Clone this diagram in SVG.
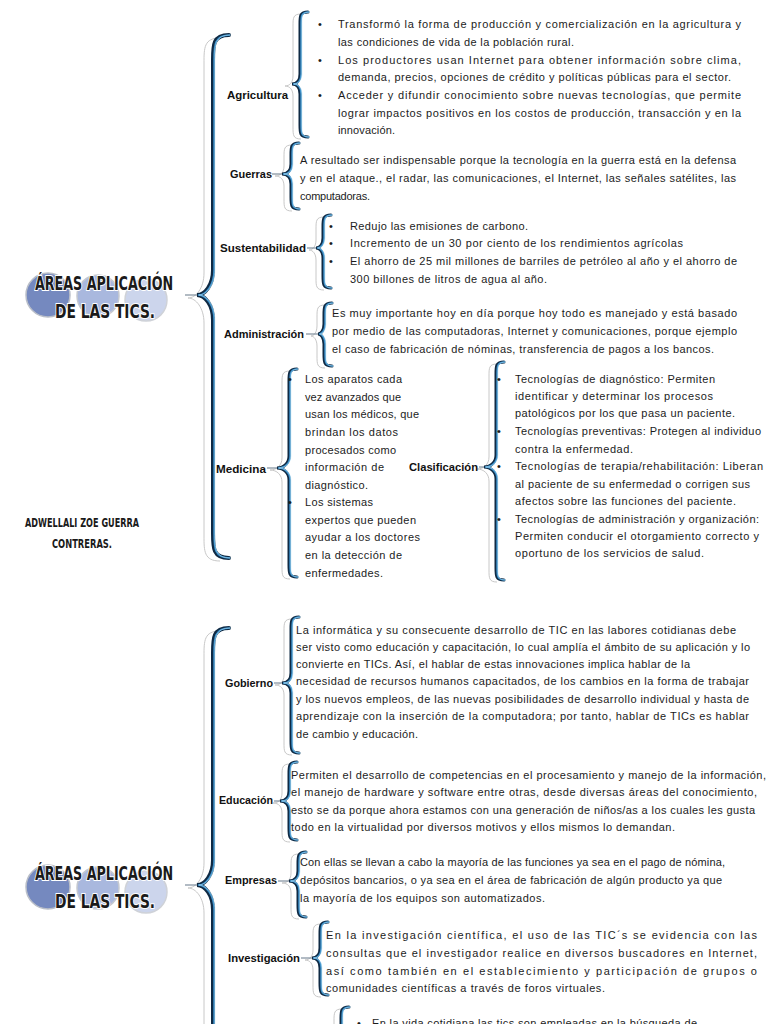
<svg xmlns="http://www.w3.org/2000/svg" xmlns:xlink="http://www.w3.org/1999/xlink" width="768" height="1024" viewBox="0 0 768 1024">
<style>
.t{font-family:"Liberation Sans","DejaVu Sans",sans-serif;font-size:11px;fill:#1c1c1c}
.l{font-family:"Liberation Sans","DejaVu Sans",sans-serif;font-size:10.5px;font-weight:bold;fill:#111}
.ti{font-family:"DejaVu Sans Condensed","DejaVu Sans",sans-serif;font-weight:bold;font-size:20px;fill:#1a1a1a;stroke:#fff;stroke-width:2px;paint-order:stroke}
.au{font-family:"DejaVu Sans Condensed","DejaVu Sans",sans-serif;font-weight:bold;font-size:11.5px;fill:#1a1a1a}
.bd{fill:none;stroke:#0f2a44;stroke-width:3;stroke-linecap:round}
.bm{fill:none;stroke:#0f2a44;stroke-width:4;stroke-linecap:round}
.bb{fill:none;stroke:#3b8fc9;stroke-width:1.5}
.bl{fill:none;stroke:#a9dbf5;stroke-width:0.6}
.sh{fill:none;stroke:#c8c8c8;stroke-width:1}
.dash{stroke:#7f8e9c;stroke-width:1.2}
</style>
<rect width="768" height="1024" fill="#ffffff"/>

<g id="title1">
  <circle cx="48" cy="295" r="22" fill="#7589bf" stroke="#b9bec8" stroke-width="1.5"/>
  <circle cx="98" cy="296" r="21" fill="#a9b8de" stroke="#c4c8d0" stroke-width="1.5"/>
  <circle cx="146" cy="300" r="21" fill="#ccd5ec" stroke="#cfd2d8" stroke-width="1.5"/>
  <text class="ti" transform="translate(35,290) scale(0.72,1)" x="0" y="0" textLength="192" lengthAdjust="spacingAndGlyphs">ÁREAS APLICACIÓN</text>
  <text class="ti" transform="translate(55,318) scale(0.72,1)" x="0" y="0" textLength="139" lengthAdjust="spacingAndGlyphs">DE LAS TICS.</text>
</g>
<g id="author">
  <text class="au" transform="translate(25,527) scale(0.76,1)" x="0" y="0" textLength="150" lengthAdjust="spacingAndGlyphs">ADWELLALI ZOE GUERRA</text>
  <text class="au" transform="translate(52,548) scale(0.76,1)" x="0" y="0" textLength="79" lengthAdjust="spacingAndGlyphs">CONTRERAS.</text>
</g>
<g id="title2">
  <circle cx="48" cy="887" r="22" fill="#7589bf" stroke="#b9bec8" stroke-width="1.5"/>
  <circle cx="98" cy="888" r="21" fill="#a9b8de" stroke="#c4c8d0" stroke-width="1.5"/>
  <circle cx="146" cy="892" r="21" fill="#ccd5ec" stroke="#cfd2d8" stroke-width="1.5"/>
  <text class="ti" transform="translate(35,880) scale(0.72,1)" x="0" y="0" textLength="192" lengthAdjust="spacingAndGlyphs">ÁREAS APLICACIÓN</text>
  <text class="ti" transform="translate(55,908) scale(0.72,1)" x="0" y="0" textLength="139" lengthAdjust="spacingAndGlyphs">DE LAS TICS.</text>
</g>

<g id="connectors">
  <defs>
    <path id="m1" d="M229,35 C213,35 213,45 213,60 L213,270 C213,285 205,295 197,295 C205,295 213,305 213,320 L213,533 C213,548 213,558 229,558"/>
    <path id="m2" d="M229,628 C213,628 213,638 213,653 L213,860 C213,875 205,885 197,885 C205,885 213,895 213,910 L213,1200"/>
    <path id="s1" d="M308,12 C300,12 300,16 300,24 L300,74 C300,80 297,84 292,84 C297,84 300,88 300,94 L300,125 C300,133 300,137 308,137"/>
    <path id="s2" d="M299,143 C291,143 291,147 291,155 L291,164 C291,170 288,174 282,174 C288,174 291,178 291,184 L291,197 C291,205 291,209 299,209"/>
    <path id="s3" d="M331,215 C323,215 323,219 323,227 L323,238 C323,244 320,248 316,248 C320,248 323,252 323,258 L323,276 C323,284 323,288 331,288"/>
    <path id="s4" d="M332,303 C324,303 324,307 324,315 L324,324 C324,330 321,334 318,334 C321,334 324,338 324,344 L324,354 C324,362 324,366 332,366"/>
    <path id="s5" d="M297,369 C289,369 289,373 289,381 L289,456 C289,463 284,468 277,468 C284,468 289,473 289,480 L289,565 C289,573 289,577 297,577"/>
    <path id="s6" d="M504,362 C496,362 496,366 496,374 L496,455 C496,462 491,467 484,467 C491,467 496,472 496,479 L496,568 C496,576 496,580 504,580"/>
    <path id="s7" d="M299,617 C291,617 291,621 291,629 L291,673 C291,679 288,683 282,683 C288,683 291,687 291,693 L291,741 C291,749 291,753 299,753"/>
    <path id="s8" d="M297,762 C289,762 289,766 289,774 L289,791 C289,797 286,801 280,801 C286,801 289,805 289,811 L289,828 C289,836 289,840 297,840"/>
    <path id="s9" d="M306,852 C298,852 298,856 298,864 L298,871 C298,877 295,881 289,881 C295,881 298,885 298,891 L298,905 C298,913 298,917 306,917"/>
    <path id="s10" d="M328,922 C320,922 320,926 320,934 L320,948 C320,954 317,958 312,958 C317,958 320,962 320,968 L320,983 C320,991 320,995 328,995"/>
    <path id="s11" d="M349,1007 C341,1007 341,1011 341,1019 L341,1040"/>
  </defs>
  <g transform="translate(-9,3)">
    <use xlink:href="#m1" class="sh"/><use xlink:href="#m2" class="sh"/>
  </g>
  <g transform="translate(-7,2)">
    <use xlink:href="#s1" class="sh"/><use xlink:href="#s2" class="sh"/><use xlink:href="#s3" class="sh"/><use xlink:href="#s4" class="sh"/><use xlink:href="#s5" class="sh"/><use xlink:href="#s6" class="sh"/><use xlink:href="#s7" class="sh"/><use xlink:href="#s8" class="sh"/><use xlink:href="#s9" class="sh"/><use xlink:href="#s10" class="sh"/><use xlink:href="#s11" class="sh"/>
  </g>
  <use xlink:href="#m1" class="bm"/><use xlink:href="#m2" class="bm"/>
  <use xlink:href="#s1" class="bd"/><use xlink:href="#s2" class="bd"/><use xlink:href="#s3" class="bd"/><use xlink:href="#s4" class="bd"/><use xlink:href="#s5" class="bd"/><use xlink:href="#s6" class="bd"/><use xlink:href="#s7" class="bd"/><use xlink:href="#s8" class="bd"/><use xlink:href="#s9" class="bd"/><use xlink:href="#s10" class="bd"/><use xlink:href="#s11" class="bd"/>
  <g transform="translate(1,0)">
    <use xlink:href="#m1" class="bb"/><use xlink:href="#m2" class="bb"/>
    <use xlink:href="#s1" class="bb"/><use xlink:href="#s2" class="bb"/><use xlink:href="#s3" class="bb"/><use xlink:href="#s4" class="bb"/><use xlink:href="#s5" class="bb"/><use xlink:href="#s6" class="bb"/><use xlink:href="#s7" class="bb"/><use xlink:href="#s8" class="bb"/><use xlink:href="#s9" class="bb"/><use xlink:href="#s10" class="bb"/><use xlink:href="#s11" class="bb"/>
  </g>
  <g transform="translate(1.8,0)">
    <use xlink:href="#m1" class="bl"/><use xlink:href="#m2" class="bl"/>
    <use xlink:href="#s1" class="bl"/><use xlink:href="#s2" class="bl"/><use xlink:href="#s3" class="bl"/><use xlink:href="#s4" class="bl"/><use xlink:href="#s5" class="bl"/><use xlink:href="#s6" class="bl"/><use xlink:href="#s7" class="bl"/><use xlink:href="#s8" class="bl"/><use xlink:href="#s9" class="bl"/><use xlink:href="#s10" class="bl"/><use xlink:href="#s11" class="bl"/>
  </g>
  <line class="dash" x1="185" y1="295" x2="197" y2="295"/>
  <line class="dash" x1="185" y1="885" x2="197" y2="885"/>
  <line class="dash" x1="272" y1="174" x2="282" y2="174"/>
  <line class="dash" x1="307" y1="248" x2="316" y2="248"/>
  <line class="dash" x1="306" y1="334" x2="318" y2="334"/>
  <line class="dash" x1="267" y1="468" x2="277" y2="468"/>
  <line class="dash" x1="479" y1="467" x2="484" y2="467"/>
  <line class="dash" x1="274" y1="683" x2="282" y2="683"/>
  <line class="dash" x1="274" y1="801" x2="280" y2="801"/>
  <line class="dash" x1="278" y1="881" x2="289" y2="881"/>
  <line class="dash" x1="301" y1="958" x2="312" y2="958"/>
</g>

<g id="agricultura">
  <text class="l" x="227" y="99" textLength="61" lengthAdjust="spacingAndGlyphs">Agricultura</text>
  <text class="t" x="318" y="28">•</text><text class="t" x="318" y="64">•</text><text class="t" x="318" y="99">•</text>
  <text class="t" x="338" y="28" textLength="403">Transformó la forma de producción y comercialización en la agricultura y</text>
  <text class="t" x="338" y="46" textLength="236">las condiciones de vida de la población rural.</text>
  <text class="t" x="338" y="64" textLength="403">Los productores usan Internet para obtener información sobre clima,</text>
  <text class="t" x="338" y="81" textLength="393">demanda, precios, opciones de crédito y políticas públicas para el sector.</text>
  <text class="t" x="338" y="99" textLength="403">Acceder y difundir conocimiento sobre nuevas tecnologías, que permite</text>
  <text class="t" x="338" y="117" textLength="403">lograr impactos positivos en los costos de producción, transacción y en la</text>
  <text class="t" x="338" y="134" textLength="57">innovación.</text>
</g>

<g id="guerras">
  <text class="l" x="230" y="178" textLength="42" lengthAdjust="spacingAndGlyphs">Guerras</text>
  <text class="t" x="300" y="164" textLength="436">A resultado ser indispensable porque la tecnología en la guerra está en la defensa</text>
  <text class="t" x="300" y="182" textLength="436">y en el ataque., el radar, las comunicaciones, el Internet, las señales satélites, las</text>
  <text class="t" x="300" y="200" textLength="70">computadoras.</text>
</g>

<g id="sustentabilidad">
  <text class="l" x="220" y="252" textLength="86" lengthAdjust="spacingAndGlyphs">Sustentabilidad</text>
  <text class="t" x="329" y="230">•</text><text class="t" x="329" y="247">•</text><text class="t" x="329" y="265">•</text>
  <text class="t" x="350" y="230" textLength="178">Redujo las emisiones de carbono.</text>
  <text class="t" x="350" y="247" textLength="333">Incremento de un 30 por ciento de los rendimientos agrícolas</text>
  <text class="t" x="350" y="265" textLength="387">El ahorro de 25 mil millones de barriles de petróleo al año y el ahorro de</text>
  <text class="t" x="350" y="283" textLength="197">300 billones de litros de agua al año.</text>
</g>

<g id="administracion">
  <text class="l" x="224" y="338" textLength="80" lengthAdjust="spacingAndGlyphs">Administración</text>
  <text class="t" x="332" y="317" textLength="405">Es muy importante hoy en día porque hoy todo es manejado y está basado</text>
  <text class="t" x="332" y="335" textLength="405">por medio de las computadoras, Internet y comunicaciones, porque ejemplo</text>
  <text class="t" x="332" y="353" textLength="382">el caso de fabricación de nóminas, transferencia de pagos a los bancos.</text>
</g>

<g id="medicina">
  <text class="l" x="216" y="473" textLength="50" lengthAdjust="spacingAndGlyphs">Medicina</text>
  <text class="t" x="288" y="383">•</text><text class="t" x="288" y="506">•</text>
  <text class="t" x="305" y="383" textLength="97">Los aparatos cada</text>
  <text class="t" x="305" y="401" textLength="96">vez avanzados que</text>
  <text class="t" x="305" y="418" textLength="114">usan los médicos, que</text>
  <text class="t" x="305" y="436" textLength="93">brindan los datos</text>
  <text class="t" x="305" y="454" textLength="91">procesados como</text>
  <text class="t" x="305" y="471" textLength="79">información de</text>
  <text class="t" x="305" y="489" textLength="63">diagnóstico.</text>
  <text class="t" x="305" y="506" textLength="68">Los sistemas</text>
  <text class="t" x="305" y="524" textLength="111">expertos que pueden</text>
  <text class="t" x="305" y="541" textLength="115">ayudar a los doctores</text>
  <text class="t" x="305" y="559" textLength="97">en la detección de</text>
  <text class="t" x="305" y="577" textLength="78">enfermedades.</text>
</g>

<g id="clasificacion">
  <text class="l" x="409" y="471" textLength="69" lengthAdjust="spacingAndGlyphs">Clasificación</text>
  <text class="t" x="497" y="383">•</text><text class="t" x="497" y="435">•</text><text class="t" x="497" y="470">•</text><text class="t" x="497" y="523">•</text>
  <text class="t" x="515" y="383" textLength="200">Tecnologías de diagnóstico: Permiten</text>
  <text class="t" x="515" y="400" textLength="198">identificar y determinar los procesos</text>
  <text class="t" x="515" y="417" textLength="220">patológicos por los que pasa un paciente.</text>
  <text class="t" x="515" y="435" textLength="246">Tecnologías preventivas: Protegen al individuo</text>
  <text class="t" x="515" y="453" textLength="118">contra la enfermedad.</text>
  <text class="t" x="515" y="470" textLength="248">Tecnologías de terapia/rehabilitación: Liberan</text>
  <text class="t" x="515" y="488" textLength="235">al paciente de su enfermedad o corrigen sus</text>
  <text class="t" x="515" y="505" textLength="221">afectos sobre las funciones del paciente.</text>
  <text class="t" x="515" y="523" textLength="244">Tecnologías de administración y organización:</text>
  <text class="t" x="515" y="540" textLength="244">Permiten conducir el otorgamiento correcto y</text>
  <text class="t" x="515" y="557" textLength="189">oportuno de los servicios de salud.</text>
</g>

<g id="gobierno">
  <text class="l" x="225" y="687" textLength="48" lengthAdjust="spacingAndGlyphs">Gobierno</text>
  <text class="t" x="296" y="634" textLength="440">La informática y su consecuente desarrollo de TIC en las labores cotidianas debe</text>
  <text class="t" x="296" y="651" textLength="454">ser visto como educación y capacitación, lo cual amplía el ámbito de su aplicación y lo</text>
  <text class="t" x="296" y="668" textLength="394">convierte en TICs. Así, el hablar de estas innovaciones implica hablar de la</text>
  <text class="t" x="296" y="685" textLength="453">necesidad de recursos humanos capacitados, de los cambios en la forma de trabajar</text>
  <text class="t" x="296" y="703" textLength="453">y los nuevos empleos, de las nuevas posibilidades de desarrollo individual y hasta de</text>
  <text class="t" x="296" y="720" textLength="453">aprendizaje con la inserción de la computadora; por tanto, hablar de TICs es hablar</text>
  <text class="t" x="296" y="738" textLength="122">de cambio y educación.</text>
</g>

<g id="educacion">
  <text class="l" x="219" y="804" textLength="54" lengthAdjust="spacingAndGlyphs">Educación</text>
  <text class="t" x="291" y="779" textLength="475">Permiten el desarrollo de competencias en el procesamiento y manejo de la información,</text>
  <text class="t" x="291" y="796" textLength="466">el manejo de hardware y software entre otras, desde diversas áreas del conocimiento,</text>
  <text class="t" x="291" y="814" textLength="464">esto se da porque ahora estamos con una generación de niños/as a los cuales les gusta</text>
  <text class="t" x="291" y="831" textLength="384">todo en la virtualidad por diversos motivos y ellos mismos lo demandan.</text>
</g>

<g id="empresas">
  <text class="l" x="225" y="884" textLength="52" lengthAdjust="spacingAndGlyphs">Empresas</text>
  <text class="t" x="300" y="866" textLength="425">Con ellas se llevan a cabo la mayoría de las funciones ya sea en el pago de nómina,</text>
  <text class="t" x="300" y="884" textLength="422">depósitos bancarios, o ya sea en el área de fabricación de algún producto ya que</text>
  <text class="t" x="300" y="902" textLength="245">la mayoría de los equipos son automatizados.</text>
</g>

<g id="investigacion">
  <text class="l" x="228" y="962" textLength="72" lengthAdjust="spacingAndGlyphs">Investigación</text>
  <text class="t" x="326" y="939" textLength="431">En la investigación científica, el uso de las TIC´s se evidencia con las</text>
  <text class="t" x="326" y="957" textLength="431">consultas que el investigador realice en diversos buscadores en Internet,</text>
  <text class="t" x="326" y="975" textLength="431">así como también en el establecimiento y participación de grupos o</text>
  <text class="t" x="326" y="992" textLength="279">comunidades científicas a través de foros virtuales.</text>
</g>

<g id="vida">
  <text class="t" x="357" y="1027">•</text>
  <text class="t" x="372" y="1027" textLength="325">En la vida cotidiana las tics son empleadas en la búsqueda de</text>
</g>
</svg>
